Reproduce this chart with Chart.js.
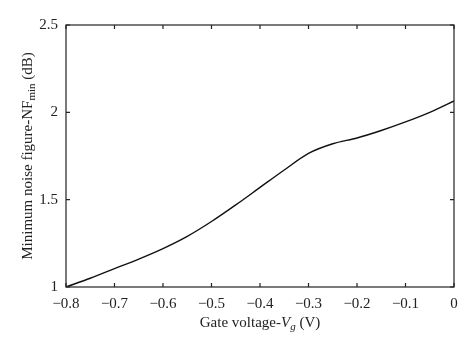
<!DOCTYPE html>
<html>
<head>
<meta charset="utf-8">
<script src="https://cdn.jsdelivr.net/npm/chart.js@4"></script>
<style>
  html, body { margin: 0; padding: 0; background: #fff; }
  #wrap { width: 474px; height: 351px; }
</style>
</head>
<body>
<div id="wrap"><canvas id="myChart" width="474" height="351"></canvas></div>
<script>
// gate voltage (V) and minimum noise figure (dB)
const gateVoltage = [-0.8, -0.75, -0.7, -0.65, -0.6, -0.55, -0.5, -0.45, -0.4, -0.35, -0.3, -0.25, -0.2, -0.15, -0.1, -0.05, 0];
const nfMin = [1.00, 1.05, 1.105, 1.16, 1.22, 1.29, 1.375, 1.47, 1.57, 1.67, 1.765, 1.82, 1.853, 1.896, 1.945, 2.0, 2.065];

const xTicks = [-0.8, -0.7, -0.6, -0.5, -0.4, -0.3, -0.2, -0.1, 0];
const yTicks = [1, 1.5, 2, 2.5];

const serif = "'Liberation Serif', 'DejaVu Serif', serif";

const fmt = (v) => {
    let s = Number(v.toFixed(1)).toString();
    return s.replace('-', '\u2212');
};

// frame + inward ticks on all four sides, and the axis titles
const framePlugin = {
    id: 'frame',
    afterDraw(chart) {
        const { ctx, chartArea: a, scales } = chart;
        const len = 4;
        ctx.save();
        ctx.strokeStyle = '#222';
        ctx.lineWidth = 1.2;
        ctx.strokeRect(a.left, a.top, a.right - a.left, a.bottom - a.top);
        ctx.beginPath();
        xTicks.forEach(v => {
            const px = scales.x.getPixelForValue(v);
            ctx.moveTo(px, a.bottom); ctx.lineTo(px, a.bottom - len);
            ctx.moveTo(px, a.top); ctx.lineTo(px, a.top + len);
        });
        yTicks.forEach(v => {
            const py = scales.y.getPixelForValue(v);
            ctx.moveTo(a.left, py); ctx.lineTo(a.left + len, py);
            ctx.moveTo(a.right, py); ctx.lineTo(a.right - len, py);
        });
        ctx.stroke();

        ctx.fillStyle = '#222';
        ctx.textBaseline = 'alphabetic';

        // x title: Gate voltage-V_g (V)
        const xParts = [
            { t: 'Gate voltage-', f: '15px ' + serif, dy: 0 },
            { t: 'V', f: 'italic 15px ' + serif, dy: 0 },
            { t: 'g', f: 'italic 11px ' + serif, dy: 3 },
            { t: ' (V)', f: '15px ' + serif, dy: 0 },
        ];
        drawParts(ctx, xParts, (a.left + a.right) / 2, 327);

        // y title: Minimum noise figure-NF_min (dB)
        ctx.translate(32, (a.top + a.bottom) / 2);
        ctx.rotate(-Math.PI / 2);
        const yParts = [
            { t: 'Minimum noise figure-NF', f: '15px ' + serif, dy: 0 },
            { t: 'min', f: '11px ' + serif, dy: 3 },
            { t: ' (dB)', f: '15px ' + serif, dy: 0 },
        ];
        drawParts(ctx, yParts, 0, 0);
        ctx.restore();
    }
};

function drawParts(ctx, parts, cx, y) {
    let total = 0;
    parts.forEach(p => { ctx.font = p.f; total += ctx.measureText(p.t).width; });
    let x = cx - total / 2;
    ctx.textAlign = 'left';
    parts.forEach(p => {
        ctx.font = p.f;
        ctx.fillText(p.t, x, y + p.dy);
        x += ctx.measureText(p.t).width;
    });
}

const data = {
    datasets: [{
        data: gateVoltage.map((v, i) => ({ x: v, y: nfMin[i] })),
        borderColor: '#111',
        borderWidth: 1.4,
        pointRadius: 0,
        fill: false,
        tension: 0.3,
    }]
};

const config = {
    type: 'line',
    data: data,
    options: {
        responsive: false,
        animation: false,
        layout: { padding: { top: 25, right: 20, left: 0, bottom: 0 } },
        plugins: {
            legend: { display: false },
            tooltip: { enabled: false },
        },
        scales: {
            x: {
                type: 'linear',
                min: -0.8,
                max: 0,
                afterFit: (s) => { s.height = 64; },
                afterBuildTicks: (s) => { s.ticks = xTicks.map(v => ({ value: v })); },
                grid: { display: false, drawTicks: false },
                border: { display: false },
                ticks: {
                    padding: 8,
                    color: '#222',
                    font: { family: serif, size: 15 },
                    maxRotation: 0,
                    callback: (v) => fmt(v),
                },
            },
            y: {
                min: 1,
                max: 2.5,
                afterFit: (s) => { s.width = 66; },
                afterBuildTicks: (s) => { s.ticks = yTicks.map(v => ({ value: v })); },
                grid: { display: false, drawTicks: false },
                border: { display: false },
                ticks: {
                    padding: 8,
                    color: '#222',
                    font: { family: serif, size: 15 },
                    callback: (v) => fmt(v),
                },
            },
        },
    },
    plugins: [framePlugin],
};

const myChart = new Chart(document.getElementById('myChart').getContext('2d'), config);
</script>
</body>
</html>
